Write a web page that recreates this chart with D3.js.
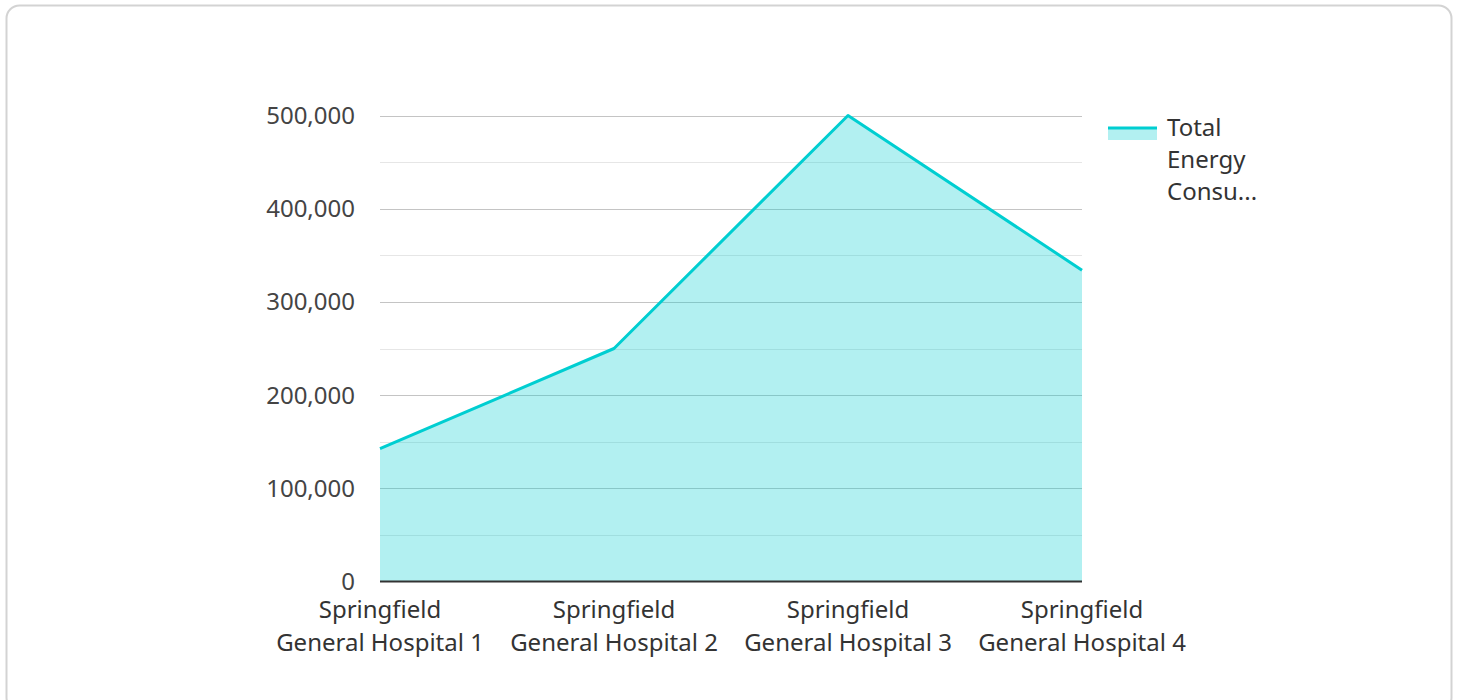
<!DOCTYPE html>
<html>
<head>
<meta charset="utf-8">
<script src="https://cdn.jsdelivr.net/npm/d3@7"></script>
<style>
  html, body { margin: 0; padding: 0; background: #fff; }
  svg { display: block; font-family: "Noto Sans", "Open Sans", sans-serif; }
</style>
</head>
<body>
<svg id="chart" width="1458" height="700"></svg>
<script>
const categories = [
  "Springfield General Hospital 1",
  "Springfield General Hospital 2",
  "Springfield General Hospital 3",
  "Springfield General Hospital 4"
];
const categoryLines = [
  ["Springfield", "General Hospital 1"],
  ["Springfield", "General Hospital 2"],
  ["Springfield", "General Hospital 3"],
  ["Springfield", "General Hospital 4"]
];
const energyValues = [142500, 250000, 500000, 334000];
const seriesName = "Total Energy Consumption";
const legendLines = ["Total", "Energy", "Consu..."];
const yTicks = [0, 100000, 200000, 300000, 400000, 500000];
const yMinorTicks = [50000, 150000, 250000, 350000, 450000];

(function () {
const svg = d3.select("#chart");
const color = "#00CED1";
const fs = 24;

svg.append("rect")
  .attr("x", 6.5).attr("y", 5.5)
  .attr("width", 1445).attr("height", 705)
  .attr("rx", 13).attr("ry", 13)
  .attr("fill", "#fff").attr("stroke", "#d3d3d3").attr("stroke-width", 2);

const pLeft = 380, pRight = 1082, pTop = 115.5, pBottom = 581.5;

const x = d3.scalePoint().domain(categories).range([pLeft, pRight]).padding(0);
const y = d3.scaleLinear().domain([0, 500000]).range([pBottom, pTop]);

svg.append("g").selectAll("line").data(yMinorTicks).join("line")
  .attr("x1", pLeft).attr("x2", pRight)
  .attr("y1", d => Math.round(y(d)) + 0.5).attr("y2", d => Math.round(y(d)) + 0.5)
  .attr("stroke", "#e6e6e6").attr("stroke-width", 1);
svg.append("g").selectAll("line").data(yTicks.filter(d => d > 0)).join("line")
  .attr("x1", pLeft).attr("x2", pRight)
  .attr("y1", d => Math.round(y(d)) + 0.5).attr("y2", d => Math.round(y(d)) + 0.5)
  .attr("stroke", "#c4c4c4").attr("stroke-width", 1);

const data = categories.map((c, i) => ({ c, v: energyValues[i] }));

svg.append("path").datum(data)
  .attr("d", d3.area().x(d => x(d.c)).y0(pBottom).y1(d => y(d.v)))
  .attr("fill", color).attr("fill-opacity", 0.3);

svg.append("path").datum(data)
  .attr("d", d3.line().x(d => x(d.c)).y(d => y(d.v)))
  .attr("fill", "none").attr("stroke", color).attr("stroke-width", 3)
  .attr("stroke-linejoin", "round");

svg.append("line")
  .attr("x1", pLeft).attr("x2", pRight)
  .attr("y1", pBottom).attr("y2", pBottom)
  .attr("stroke", "#333").attr("stroke-width", 2);

const fmt = d3.format(",");
svg.append("g").selectAll("text").data(yTicks).join("text")
  .attr("x", 355).attr("y", d => y(d))
  .attr("dy", "0.35em")
  .attr("text-anchor", "end")
  .attr("font-size", fs)
  .attr("fill", "#444")
  .text(d => fmt(d));

const xl = svg.append("g").selectAll("text").data(categories).join("text")
  .attr("x", d => x(d))
  .attr("y", 618)
  .attr("text-anchor", "middle")
  .attr("font-size", fs)
  .attr("fill", "#333");
xl.selectAll("tspan").data((d, i) => categoryLines[i]).join("tspan")
  .attr("x", function () { return this.parentNode.getAttribute("x"); })
  .attr("dy", (d, i) => i === 0 ? 0 : 33)
  .text(d => d);

const lg = svg.append("g");
lg.append("title").text(seriesName);
lg.append("rect").attr("x", 1108).attr("y", 127).attr("width", 49).attr("height", 13)
  .attr("fill", color).attr("fill-opacity", 0.3);
lg.append("line").attr("x1", 1108).attr("x2", 1157).attr("y1", 128).attr("y2", 128)
  .attr("stroke", color).attr("stroke-width", 3);
lg.selectAll("text").data(legendLines).join("text")
  .attr("x", 1167).attr("y", (d, i) => 136 + i * 32)
  .attr("font-size", fs).attr("fill", "#333")
  .text(d => d);
})();
</script>
</body>
</html>
